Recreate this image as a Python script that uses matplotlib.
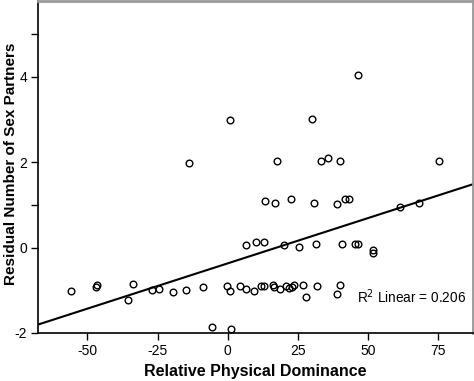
import matplotlib
matplotlib.use("Agg")
import matplotlib.pyplot as plt
import numpy as np

plt.rcParams['font.family'] = ['Liberation Sans', 'DejaVu Sans']
plt.rcParams['axes.unicode_minus'] = False

# relative physical dominance (x) and residual number of sex partners (y)
dominance = [-55.7, -46.8, -46.4, -35.7, -33.9, -27.1, -24.3, -19.6, -15.0, -8.9,
             -0.4, 0.7, 4.3, 6.7, 9.5, 11.8, 13.1, 16.2, 16.4, 18.8,
             20.9, 22.0, 22.9, 23.6, 27.0, 27.8, 32.0, 38.8, 40.0,
             -5.7, 1.2,
             6.4, 10.0, 13.1, 20.0, 25.3, 31.5, 40.9, 45.5, 46.4, 51.7, 51.8,
             61.4, 68.3,
             13.2, 16.7, 22.6, 30.7, 39.0, 41.7, 43.2,
             -13.7, 17.6, 33.4, 35.9, 40.0, 75.4,
             1.0, 30.0, 46.6]
residual = [-1.02, -0.93, -0.87, -1.23, -0.86, -1.00, -0.97, -1.05, -1.00, -0.93,
            -0.89, -1.02, -0.90, -0.98, -1.01, -0.91, -0.91, -0.88, -0.93, -0.98,
            -0.91, -0.95, -0.93, -0.87, -0.87, -1.16, -0.91, -1.09, -0.87,
            -1.87, -1.91,
            0.06, 0.12, 0.12, 0.05, 0.02, 0.09, 0.09, 0.09, 0.09, -0.05, -0.13,
            0.95, 1.05,
            1.09, 1.05, 1.13, 1.05, 1.01, 1.13, 1.13,
            1.99, 2.02, 2.02, 2.09, 2.02, 2.02,
            2.99, 3.02, 4.05]

fit_intercept = -0.37
fit_slope = 0.0212
r2 = 0.206

x_ticks = [-50, -25, 0, 25, 50, 75]
y_ticks = [-2, 0, 2, 4]
y_minor = [1, 5]

fig = plt.figure(figsize=(4.74, 3.81), dpi=100)
ax = fig.add_axes([0.0802, 0.126, 0.918, 0.871])

ax.plot(dominance, residual, 'o', markerfacecolor='none', markeredgecolor='black',
        markersize=4.8, markeredgewidth=1.0, linestyle='none')

xlim = (-67.6, 87.5)
xs = np.array(xlim)
ax.plot(xs, fit_intercept + fit_slope * xs, color='black', linewidth=1.5)

ax.set_xlim(*xlim)
ax.set_ylim(-2, 5.77)
ax.set_xticks(x_ticks)
ax.set_yticks(y_ticks)
ax.set_yticks(y_minor, minor=True)
ax.tick_params(axis='both', direction='out', length=5, width=1, labelsize=10, pad=3)
ax.tick_params(axis='y', which='minor', direction='out', length=5, width=1)

for side in ['left', 'bottom']:
    ax.spines[side].set_color('black')
    ax.spines[side].set_linewidth(1.2)
for side in ['top', 'right']:
    ax.spines[side].set_color('#999999')
    ax.spines[side].set_linewidth(2)

ax.set_xlabel('Relative Physical Dominance', fontsize=11.5, fontweight='bold', labelpad=4)
ax.set_ylabel('Residual Number of Sex Partners', fontsize=11, fontweight='bold')
ax.yaxis.set_label_coords(-0.047, 0.509)

ax.text(0.984, 0.108, f'R$^2$ Linear = {r2:.3f}', transform=ax.transAxes,
        ha='right', va='center', fontsize=9.8)

fig.savefig('out.png', dpi=100)
